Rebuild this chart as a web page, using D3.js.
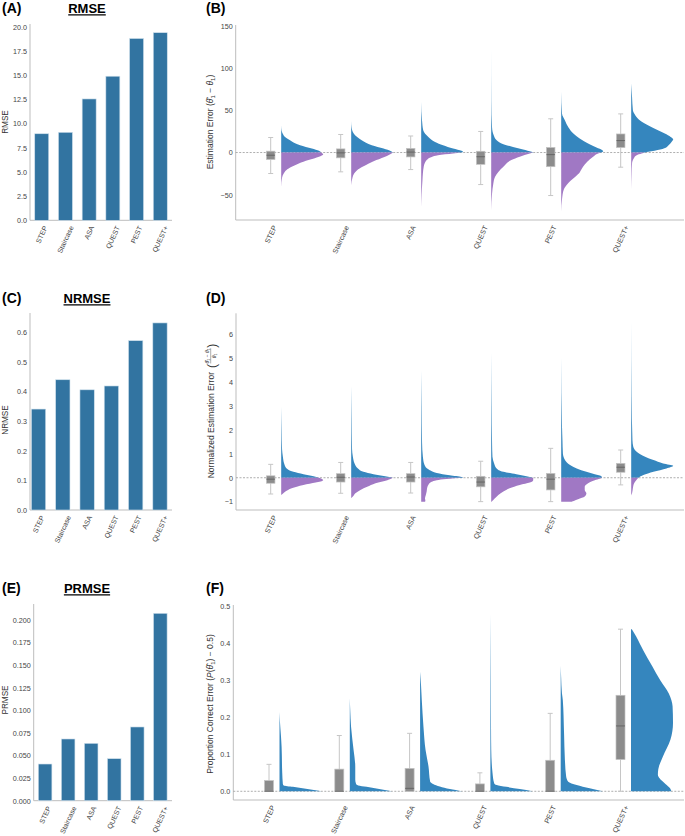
<!DOCTYPE html>
<html>
<head>
<meta charset="utf-8">
<script src="https://cdn.jsdelivr.net/npm/d3@7"></script>
<style>
  body { margin: 0; background: #fff; }
  svg text { font-family: "Liberation Sans", Arial, sans-serif; }
</style>
</head>
<body>
<svg id="chart" width="685" height="836"></svg>
<script>
// ---- data ----
const methods = ["STEP", "Staircase", "ASA", "QUEST", "PEST", "QUEST+"];

const rmseValues = [8.95, 9.1, 12.55, 14.9, 18.8, 19.4];
const nrmseValues = [0.341, 0.44, 0.406, 0.419, 0.572, 0.632];
const prmseValues = [0.0406, 0.0683, 0.0635, 0.0465, 0.0816, 0.2074];

const rmseTicks = [0, 2.5, 5, 7.5, 10, 12.5, 15, 17.5, 20];
const nrmseTicks = [0, 0.1, 0.2, 0.3, 0.4, 0.5, 0.6];
const prmseTicks = [0, 0.025, 0.05, 0.075, 0.1, 0.125, 0.15, 0.175, 0.2];
const errTicks = [-50, 0, 50, 100, 150];
const normTicks = [-1, 0, 1, 2, 3, 4, 5, 6];
const propTicks = [0, 0.1, 0.2, 0.3, 0.4, 0.5];

// boxes: [lower whisker, q1, median, q3, upper whisker]
const errBoxes = [
    [-24.9, -8.3, -3.2, 1.6, 17.8],
    [-22.9, -6.3, -0.4, 4.3, 21.4],
    [-20.2, -5.2, 0.5, 4.9, 19.6],
    [-38, -14, -5, 1.5, 25],
    [-51, -16.8, -2.5, 6, 40],
    [-17.4, 5.9, 14.2, 22, 45.8]
];
const normBoxes = [
    [-0.68, -0.23, -0.06, 0.08, 0.56],
    [-0.65, -0.18, 0.02, 0.17, 0.64],
    [-0.64, -0.18, 0.03, 0.17, 0.64],
    [-1.0, -0.38, -0.18, 0.06, 0.69],
    [-1.0, -0.51, -0.06, 0.18, 1.23],
    [-0.3, 0.23, 0.44, 0.6, 1.16]
];
const propBoxes = [
    [0, 0, 0, 0.029, 0.073],
    [0, 0, 0, 0.060, 0.151],
    [0, 0, 0.008, 0.062, 0.157],
    [0, 0, 0, 0.020, 0.050],
    [0, 0, 0, 0.084, 0.211],
    [0, 0.086, 0.177, 0.26, 0.439]
];

// half violin outlines: [value, relative width]
const errPos = [
    [[32.4, 0], [26, 0.01], [22, 0.04], [18, 0.1], [14.6, 0.21], [11, 0.33], [8.7, 0.45], [4.7, 0.73], [2, 0.9], [0, 0.95]],
    [[37.5, 0], [30, 0.01], [22.5, 0.06], [14.6, 0.25], [8.7, 0.49], [4.7, 0.77], [1.5, 0.95], [0, 1.0]],
    [[60, 0], [38, 0.02], [26, 0.05], [18.5, 0.17], [12.6, 0.33], [8.7, 0.52], [4.7, 0.76], [2, 0.96], [0.5, 1.0], [0, 0.95]],
    [[123, 0], [60, 0.005], [30, 0.02], [20.5, 0.06], [14.6, 0.13], [9.9, 0.29], [6.7, 0.52], [3.5, 0.76], [0.8, 0.96], [0, 1.0]],
    [[72, 0], [46, 0.02], [38, 0.09], [30, 0.17], [22.5, 0.29], [16.6, 0.44], [10.7, 0.64], [5.9, 0.84], [2.8, 0.98], [1.5, 1.0], [0, 0.95]],
    [[81.8, 0], [66, 0.02], [50, 0.04], [44, 0.1], [38, 0.21], [32, 0.41], [26, 0.65], [22.5, 0.8], [18.5, 0.94], [15.8, 1.0], [12.6, 0.96], [8.7, 0.89], [6.7, 0.85], [3.5, 0.69], [0.8, 0.41], [0, 0.33]]
];
const errNeg = [
    [[0, 0.95], [-2.4, 1.0], [-5, 0.9], [-9, 0.65], [-13, 0.42], [-17, 0.25], [-21, 0.12], [-25, 0.06], [-30, 0.02], [-40.8, 0]],
    [[0, 1.0], [-4, 0.85], [-9, 0.6], [-13, 0.42], [-17, 0.27], [-21, 0.14], [-25, 0.07], [-30, 0.03], [-38.7, 0]],
    [[0, 0.95], [-1.2, 0.76], [-3.2, 0.4], [-5.2, 0.25], [-9, 0.13], [-17, 0.06], [-33, 0.03], [-50, 0.01], [-64.5, 0]],
    [[0, 1.0], [-1.2, 0.92], [-5, 0.68], [-9, 0.48], [-17, 0.29], [-23, 0.17], [-29, 0.09], [-37, 0.05], [-49, 0.02], [-68.4, 0]],
    [[0, 0.95], [-1.2, 0.88], [-5, 0.76], [-11, 0.62], [-17, 0.52], [-21, 0.47], [-25, 0.42], [-28, 0.35], [-31, 0.28], [-36, 0.17], [-44, 0.06], [-55, 0.02], [-70, 0]],
    [[0, 0.33], [-1.2, 0.25], [-3.2, 0.13], [-7, 0.06], [-13, 0.02], [-25, 0.01], [-43.7, 0]]
];
const normPos = [
    [[2.97, 0], [2, 0.01], [1.2, 0.02], [0.88, 0.04], [0.6, 0.07], [0.39, 0.13], [0.25, 0.29], [0.15, 0.53], [0.06, 0.77], [0, 0.9]],
    [[3.84, 0], [2.5, 0.01], [1.2, 0.02], [0.88, 0.04], [0.6, 0.08], [0.39, 0.16], [0.25, 0.29], [0.15, 0.53], [0.06, 0.81], [0, 1.0]],
    [[4.48, 0], [3, 0.01], [1.5, 0.02], [0.88, 0.04], [0.53, 0.08], [0.35, 0.17], [0.2, 0.37], [0.1, 0.68], [0.03, 0.96], [0, 1.0]],
    [[5.24, 0], [3, 0.01], [1.5, 0.02], [0.88, 0.03], [0.6, 0.07], [0.39, 0.13], [0.25, 0.29], [0.15, 0.6], [0.06, 0.84], [0, 1.0]],
    [[5.03, 0], [2.1, 0.02], [1.57, 0.03], [1.02, 0.04], [0.74, 0.09], [0.53, 0.21], [0.39, 0.37], [0.25, 0.6], [0.15, 0.8], [0.06, 0.96], [0, 0.97]],
    [[6.53, 0], [3.39, 0.01], [1.57, 0.03], [1.3, 0.05], [1.09, 0.13], [0.88, 0.33], [0.74, 0.53], [0.6, 0.76], [0.5, 1.0], [0.39, 0.84], [0.25, 0.53], [0.11, 0.29], [0, 0.17]]
];
const normNeg = [
    [[0, 0.9], [-0.1, 1.0], [-0.2, 0.82], [-0.3, 0.53], [-0.44, 0.25], [-0.58, 0.1], [-0.68, 0.03], [-0.72, 0]],
    [[0, 1.0], [-0.1, 0.86], [-0.23, 0.58], [-0.38, 0.38], [-0.51, 0.22], [-0.65, 0.1], [-0.79, 0.04], [-0.86, 0]],
    [[0, 1.0], [-0.05, 0.6], [-0.1, 0.37], [-0.17, 0.25], [-0.3, 0.17], [-0.44, 0.14], [-0.58, 0.13], [-0.72, 0.11], [-0.86, 0.09], [-0.97, 0.1], [-1.0, 0.09]],
    [[0, 1.0], [-0.1, 1.0], [-0.2, 0.92], [-0.3, 0.68], [-0.44, 0.44], [-0.58, 0.29], [-0.72, 0.17], [-0.86, 0.09], [-0.93, 0.05], [-1.0, 0.01]],
    [[0, 0.97], [-0.04, 0.92], [-0.1, 0.8], [-0.23, 0.64], [-0.38, 0.56], [-0.51, 0.56], [-0.65, 0.6], [-0.79, 0.56], [-0.9, 0.4], [-0.97, 0.3], [-1.0, 0.25]],
    [[0, 0.17], [-0.1, 0.12], [-0.23, 0.07], [-0.44, 0.04], [-0.65, 0.02], [-0.74, 0]]
];
const propDens = [
    [[0.215, 0], [0.19, 0.01], [0.15, 0.035], [0.12, 0.05], [0.05, 0.065], [0.02, 0.08], [0.016, 0.1], [0.012, 0.32], [0.008, 0.55], [0.004, 0.78], [0, 1.0]],
    [[0.252, 0], [0.22, 0.01], [0.175, 0.03], [0.112, 0.09], [0.067, 0.13], [0.031, 0.13], [0.02, 0.15], [0.016, 0.2], [0.012, 0.4], [0.008, 0.6], [0.004, 0.8], [0, 1.0]],
    [[0.324, 0], [0.292, 0.02], [0.247, 0.04], [0.175, 0.08], [0.112, 0.13], [0.067, 0.2], [0.026, 0.24], [0.02, 0.31], [0.013, 0.47], [0.006, 0.71], [0, 1.0]],
    [[0.48, 0], [0.3, 0.01], [0.17, 0.015], [0.112, 0.02], [0.05, 0.05], [0.022, 0.09], [0.017, 0.15], [0.012, 0.38], [0.006, 0.7], [0, 1.0]],
    [[0.34, 0], [0.31, 0.01], [0.265, 0.03], [0.247, 0.05], [0.157, 0.08], [0.085, 0.1], [0.04, 0.13], [0.026, 0.18], [0.017, 0.38], [0.008, 0.69], [0, 1.0]],
    [[0.439, 0.02], [0.42, 0.12], [0.38, 0.3], [0.34, 0.5], [0.3, 0.7], [0.265, 0.9], [0.23, 0.99], [0.185, 1.0], [0.14, 0.94], [0.094, 0.76], [0.06, 0.65], [0.045, 0.64], [0.035, 0.68], [0.02, 0.82], [0.008, 0.93], [0, 0.96]]
];

// ---- styling ----
const barBlue = "#3274a1";
const vioBlue = "#3586be";
const vioPurple = "#a078c4";
const spineColor = "#bdbdbd";
const textColor = "#444";
const violinW = 42;     // max half-violin width in px
const violinOff = 10.5; // gap box centre -> violin
const labelAngle = 65;

const svg = d3.select("#chart");
svg.append("rect").attr("width", 685).attr("height", 836).attr("fill", "#fff");

function yAxis(g, y, ticks, fmt, x) {
    const ax = g.append("g")
        .attr("transform", `translate(${x},0)`)
        .call(d3.axisLeft(y).tickValues(ticks).tickFormat(fmt).tickSize(0).tickPadding(3));
    ax.select(".domain").remove();
    ax.selectAll("text")
        .attr("font-family", '"Liberation Sans", Arial, sans-serif')
        .attr("font-size", 7.2)
        .attr("fill", textColor);
}

// rotated category labels, bbox centred on the tick like matplotlib ha='center'
function categoryLabels(g, xFn, axisY, size) {
    const a = labelAngle * Math.PI / 180;
    g.selectAll(null)
        .data(methods)
        .join("text")
        .attr("font-size", size)
        .attr("fill", textColor)
        .attr("text-anchor", "end")
        .text(d => d)
        .each(function (d) {
            const w = this.getComputedTextLength();
            const tx = xFn(d) + (w * Math.cos(a) + 0.7 * size * Math.sin(a)) / 2;
            d3.select(this).attr("transform", `translate(${tx},${axisY + 7}) rotate(${-labelAngle})`);
        });
}

function panelTitle(letter, name, baseline) {
    svg.append("text")
        .attr("x", 2).attr("y", baseline)
        .attr("font-family", '"Open Sans", sans-serif')
        .attr("font-weight", "bold").attr("font-size", 14)
        .text(letter.left);
    svg.append("text")
        .attr("x", 206).attr("y", baseline)
        .attr("font-family", '"Open Sans", sans-serif')
        .attr("font-weight", "bold").attr("font-size", 14)
        .text(letter.right);
    const t = svg.append("text")
        .attr("x", 87).attr("y", baseline)
        .attr("text-anchor", "middle")
        .attr("font-family", '"Open Sans", sans-serif')
        .attr("font-weight", "bold").attr("font-size", 13)
        .text(name);
    const w = t.node().getComputedTextLength();
    svg.append("line")
        .attr("x1", 87 - w / 2).attr("x2", 87 + w / 2)
        .attr("y1", baseline + 1.8).attr("y2", baseline + 1.8)
        .attr("stroke", "#000").attr("stroke-width", 1.2);
}

function barPanel(cfg) {
    const g = svg.append("g");
    const x = d3.scaleBand()
        .domain(methods)
        .range(cfg.xRange)
        .paddingInner(0.41)
        .paddingOuter(0.2);
    const y = d3.scaleLinear().domain(cfg.yDomain).range(cfg.yRange);

    g.append("line")
        .attr("x1", cfg.spineX).attr("x2", cfg.spineX)
        .attr("y1", cfg.yRange[1]).attr("y2", cfg.yRange[0])
        .attr("stroke", spineColor);
    g.append("line")
        .attr("x1", cfg.spineX).attr("x2", 172)
        .attr("y1", cfg.yRange[0]).attr("y2", cfg.yRange[0])
        .attr("stroke", spineColor);

    yAxis(g, y, cfg.ticks, cfg.fmt, cfg.spineX);

    g.selectAll(".bar")
        .data(cfg.values)
        .join("rect")
        .attr("class", "bar")
        .attr("x", (d, i) => x(methods[i]))
        .attr("width", x.bandwidth())
        .attr("y", d => y(d))
        .attr("height", d => y(0) - y(d))
        .attr("fill", barBlue)
        .attr("stroke", "#cfe0ec")
        .attr("stroke-width", 0.6);

    categoryLabels(g, d => x(d) + x.bandwidth() / 2, cfg.yRange[0], 7);

    g.append("text")
        .attr("transform", `translate(8.3,${cfg.labelY}) rotate(-90)`)
        .attr("text-anchor", "middle")
        .attr("font-size", 8.2)
        .attr("fill", "#333")
        .text(cfg.label);
}

function rainPanel(cfg) {
    const g = svg.append("g");
    const x = d3.scalePoint().domain(methods).range(cfg.xRange);
    const y = d3.scaleLinear().domain(cfg.yDomain).range(cfg.yRange);
    const bottom = cfg.yRange[0];

    g.append("line")
        .attr("x1", cfg.spineX).attr("x2", cfg.spineX)
        .attr("y1", cfg.yRange[1]).attr("y2", bottom)
        .attr("stroke", spineColor);
    g.append("line")
        .attr("x1", cfg.spineX).attr("x2", 684)
        .attr("y1", bottom).attr("y2", bottom)
        .attr("stroke", spineColor);

    yAxis(g, y, cfg.ticks, cfg.fmt, cfg.spineX);

    // dotted zero line
    g.append("line")
        .attr("x1", cfg.spineX).attr("x2", 684)
        .attr("y1", y(0)).attr("y2", y(0))
        .attr("stroke", "#999").attr("stroke-width", 0.8)
        .attr("stroke-dasharray", "2,1.5");

    const area = (x0) => d3.area()
        .curve(d3.curveMonotoneY)
        .y(d => y(d[0]))
        .x0(x0)
        .x1(d => x0 + violinW * d[1]);

    methods.forEach((m, i) => {
        const cx = x(m);
        const vx = cx + violinOff;
        g.append("path").attr("d", area(vx)(cfg.pos[i])).attr("fill", vioBlue);
        if (cfg.neg) {
            g.append("path").attr("d", area(vx)(cfg.neg[i])).attr("fill", vioPurple);
        }

        const [lo, q1, med, q3, hi] = cfg.boxes[i];
        const bw = cfg.boxW;
        // whiskers + caps
        [[q3, hi], [q1, lo]].forEach(([a, b]) => {
            g.append("line")
                .attr("x1", cx).attr("x2", cx)
                .attr("y1", y(a)).attr("y2", y(b))
                .attr("stroke", "#c6c6c6").attr("stroke-width", 1);
            g.append("line")
                .attr("x1", cx - 2.5).attr("x2", cx + 2.5)
                .attr("y1", y(b)).attr("y2", y(b))
                .attr("stroke", "#c6c6c6").attr("stroke-width", 1);
        });
        g.append("rect")
            .attr("x", cx - bw / 2)
            .attr("width", bw)
            .attr("y", y(q3))
            .attr("height", Math.max(0.5, y(q1) - y(q3)))
            .attr("fill", "#8c8c8c")
            .attr("stroke", "#c2c2c2")
            .attr("stroke-width", 0.7);
        g.append("line")
            .attr("x1", cx - bw / 2).attr("x2", cx + bw / 2)
            .attr("y1", y(med)).attr("y2", y(med))
            .attr("stroke", "#5c5c5c").attr("stroke-width", 0.8);
    });

    categoryLabels(g, d => x(d), bottom, 7.2);
    return g;
}

// ---- titles ----
panelTitle({ left: "(A)", right: "(B)" }, "RMSE", 13);
panelTitle({ left: "(C)", right: "(D)" }, "NRMSE", 303);
panelTitle({ left: "(E)", right: "(F)" }, "PRMSE", 593);

// ---- bar panels ----
barPanel({
    values: rmseValues, ticks: rmseTicks, fmt: d3.format(".1f"),
    xRange: [30, 172], spineX: 30,
    yDomain: [0, 20.3], yRange: [220.3, 24],
    label: "RMSE", labelY: 122
});
barPanel({
    values: nrmseValues, ticks: nrmseTicks, fmt: d3.format(".1f"),
    xRange: [26.5, 172], spineX: 30,
    yDomain: [0, 0.6655], yRange: [510, 313],
    label: "NRMSE", labelY: 420
});
barPanel({
    values: prmseValues, ticks: prmseTicks, fmt: d3.format(".3f"),
    xRange: [33.7, 171.7], spineX: 33.7,
    yDomain: [0, 0.2177], yRange: [800.7, 604],
    label: "PRMSE", labelY: 700
});

// ---- raincloud panels ----
const minusFmt = d => d < 0 ? "\u2212" + Math.abs(d) : String(d);

const gB = rainPanel({
    pos: errPos, neg: errNeg, boxes: errBoxes, boxW: 8.5,
    ticks: errTicks, fmt: minusFmt,
    xRange: [270.7, 620.7], spineX: 235.7,
    yDomain: [-80, 151.2], yRange: [220, 25]
});
const gD = rainPanel({
    pos: normPos, neg: normNeg, boxes: normBoxes, boxW: 8.5,
    ticks: normTicks, fmt: minusFmt,
    xRange: [270.7, 620.7], spineX: 236,
    yDomain: [-1.35, 6.88], yRange: [510, 313.3]
});
const gF = rainPanel({
    pos: propDens, neg: null, boxes: propBoxes, boxW: 9,
    ticks: propTicks, fmt: d3.format(".1f"),
    xRange: [269, 620.5], spineX: 233.3,
    yDomain: [-0.0236, 0.5045], yRange: [800, 605]
});

// ---- y labels with math ----
function mathLabel(cx, cy, parts) {
    const t = svg.append("text")
        .attr("transform", `translate(${cx},${cy}) rotate(-90)`)
        .attr("text-anchor", "middle")
        .attr("font-size", 8.5)
        .attr("fill", "#333");
    parts.forEach(p => {
        const s = t.append("tspan").text(p.t);
        if (p.i) s.attr("font-style", "italic");
        if (p.sub) s.attr("font-size", 6).attr("dy", 2);
        if (p.up) s.attr("dy", -2);
    });
}

mathLabel(212.8, 122, [
    { t: "Estimation Error  (" },
    { t: "\u03B8\u0302", i: true },
    { t: "1", sub: true },
    { t: " \u2212 ", up: true },
    { t: "\u03B8", i: true },
    { t: "1", sub: true },
    { t: ")", up: true }
]);
mathLabel(212.8, 704, [
    { t: "Proportion Correct Error  (" },
    { t: "P", i: true },
    { t: "(" },
    { t: "\u03B8\u0302", i: true },
    { t: "1", sub: true },
    { t: ")", up: true },
    { t: " \u2212 0.5)" }
]);

// normalized label with a small stacked fraction
(function () {
    const grp = svg.append("g").attr("transform", "translate(214.3,411) rotate(-90)");
    const inner = grp.append("g");
    const t1 = inner.append("text").attr("font-size", 8.5).attr("fill", "#333")
        .text("Normalized Estimation Error");
    let xpos = t1.node().getComputedTextLength() + 4;
    const lp = inner.append("text").attr("x", xpos).attr("y", 1.6)
        .attr("font-size", 12).attr("fill", "#333").attr("font-weight", 300).text("(");
    xpos += lp.node().getComputedTextLength() + 0.6;

    const num = inner.append("text").attr("font-size", 5).attr("fill", "#333").attr("text-anchor", "middle").attr("y", -5.3);
    num.append("tspan").attr("font-style", "italic").text("\u03B8\u0302");
    num.append("tspan").attr("font-size", 3.6).attr("dy", 1).text("1");
    num.append("tspan").attr("dy", -1).text(" \u2212 ");
    num.append("tspan").attr("font-style", "italic").text("\u03B8");
    num.append("tspan").attr("font-size", 3.6).attr("dy", 1).text("1");
    const den = inner.append("text").attr("font-size", 5).attr("fill", "#333").attr("text-anchor", "middle").attr("y", 1.2);
    den.append("tspan").attr("font-style", "italic").text("\u03B8");
    den.append("tspan").attr("font-size", 3.6).attr("dy", 1).text("1");
    const fw = Math.max(num.node().getComputedTextLength(), den.node().getComputedTextLength());
    num.attr("x", xpos + fw / 2);
    den.attr("x", xpos + fw / 2);
    inner.append("line")
        .attr("x1", xpos).attr("x2", xpos + fw)
        .attr("y1", -3.6).attr("y2", -3.6)
        .attr("stroke", "#333").attr("stroke-width", 0.4);
    xpos += fw + 0.6;
    const rp = inner.append("text").attr("x", xpos).attr("y", 1.6)
        .attr("font-size", 12).attr("fill", "#333").text(")");
    const total = xpos + rp.node().getComputedTextLength();
    inner.attr("transform", `translate(${-total / 2},0)`);
})();
</script>
</body>
</html>
